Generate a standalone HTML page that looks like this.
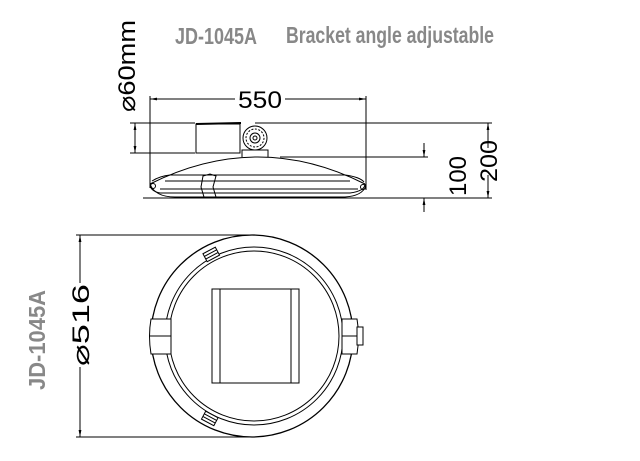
<!DOCTYPE html>
<html><head><meta charset="utf-8"><style>
html,body{margin:0;padding:0;background:#fff;}
svg{display:block}
text{font-family:"Liberation Sans",sans-serif;}
</style></head><body>
<svg width="640" height="461" viewBox="0 0 640 461" xmlns="http://www.w3.org/2000/svg">
<defs>
<marker id="a" viewBox="0 0 10 10" refX="10" refY="5" markerWidth="7" markerHeight="7" orient="auto-start-reverse"><path d="M0,3 L10,5 L0,7 z" fill="#000"/></marker>
</defs>
<g fill="#888" font-size="23" font-weight="bold">
<text x="175" y="44" textLength="82" lengthAdjust="spacingAndGlyphs">JD-1045A</text>
<text x="286" y="43" textLength="208" lengthAdjust="spacingAndGlyphs">Bracket angle adjustable</text>
<text transform="translate(45,390) rotate(-90)" textLength="100" lengthAdjust="spacingAndGlyphs">JD-1045A</text>
</g>
<g fill="#000" font-size="24">
<text transform="translate(135,112) rotate(-90)" textLength="92" lengthAdjust="spacingAndGlyphs">⌀60mm</text>
<text x="238" y="108" textLength="44" lengthAdjust="spacingAndGlyphs">550</text>
<text transform="translate(466,196) rotate(-90)" textLength="40" lengthAdjust="spacingAndGlyphs">100</text>
<text transform="translate(497,182) rotate(-90)" textLength="42" lengthAdjust="spacingAndGlyphs">200</text>
<text transform="translate(89,366) rotate(-90)" textLength="82" lengthAdjust="spacingAndGlyphs">⌀516</text>
</g>
<g stroke="#000" stroke-width="1" fill="none">
<line x1="150" y1="96" x2="150" y2="188"/>
<line x1="366" y1="96" x2="366" y2="190"/>
<line x1="150" y1="99" x2="235" y2="99" marker-start="url(#a)"/>
<line x1="285" y1="99" x2="366" y2="99" marker-end="url(#a)"/>
<line x1="130" y1="123" x2="195" y2="123"/>
<line x1="130" y1="153" x2="195" y2="153"/>
<line x1="135" y1="123" x2="135" y2="153" marker-start="url(#a)" marker-end="url(#a)"/>
<line x1="255" y1="123" x2="492" y2="123"/>
<line x1="280" y1="157" x2="428" y2="157"/>
<line x1="143" y1="198" x2="492" y2="198"/>
<line x1="488" y1="123" x2="488" y2="148" marker-start="url(#a)"/>
<line x1="488" y1="198" x2="488" y2="175" marker-start="url(#a)"/>
<line x1="424" y1="143" x2="424" y2="157" marker-end="url(#a)"/>
<line x1="424" y1="212" x2="424" y2="198" marker-end="url(#a)"/>
<path d="M196,124 L240,124 L240,153 L196,153 Z"/>
<line x1="196" y1="124" x2="241" y2="123" stroke-width="2"/>
<circle cx="255" cy="138" r="12"/>
<circle cx="255" cy="138" r="9" stroke-dasharray="2 1.5"/>
<circle cx="255" cy="138" r="5"/>
<circle cx="255" cy="138" r="2"/>
<path d="M242,157 L242,150 L268,150 L268,157"/>
<path d="M150,184 Q258,130 365,184" />
<path d="M150,184 Q150,191 160,193 L350,193 Q365,191 365,184"/>
<path d="M152,181 Q160,176 170,175 L345,175 Q360,177 364,182"/>
<line x1="165" y1="181" x2="350" y2="181"/>
<line x1="160" y1="189" x2="358" y2="189"/>
<path d="M150,184 Q155,197 175,197 L345,197 Q362,196 366,186"/>
<path d="M203,176 L210,174 L216,176 L213,187 L216,197 L204,197 L201,187 Z"/>
<circle cx="153" cy="186" r="2.5"/>
<circle cx="363" cy="187" r="2.5"/>
<line x1="76" y1="235" x2="252" y2="235"/>
<line x1="76" y1="437" x2="252" y2="437"/>
<line x1="80" y1="235" x2="80" y2="283" marker-start="url(#a)"/>
<line x1="80" y1="437" x2="80" y2="367" marker-start="url(#a)"/>
<circle cx="252" cy="336" r="101" stroke-width="1.3"/>
<circle cx="254" cy="336" r="89"/>
<circle cx="254" cy="336" r="85"/>
<rect x="212" y="289" width="87" height="94"/>
<line x1="220" y1="289" x2="220" y2="383"/>
<line x1="291" y1="289" x2="291" y2="383"/>
<path d="M151,319 Q148,336 151,354 L171,354 L171,319 Z" fill="#fff"/>
<line x1="150" y1="336" x2="171" y2="336"/>
<path d="M357,319 L342,319 L342,354 L357,354 Q360,336 357,319 Z" fill="#fff"/>
<line x1="342" y1="336" x2="358" y2="336"/>
<rect x="357" y="327" width="6" height="18" fill="#fff"/>
<g transform="translate(211,254) rotate(-28)"><rect x="-7" y="-4" width="14" height="9" fill="#fff"/><line x1="-7" y1="-1" x2="7" y2="-1"/><line x1="-7" y1="2" x2="7" y2="2"/></g>
<g transform="translate(210,418) rotate(28)"><rect x="-7" y="-4" width="14" height="9" fill="#fff"/><line x1="-7" y1="-1" x2="7" y2="-1"/><line x1="-7" y1="2" x2="7" y2="2"/></g>
</g>
</svg>
</body></html>
